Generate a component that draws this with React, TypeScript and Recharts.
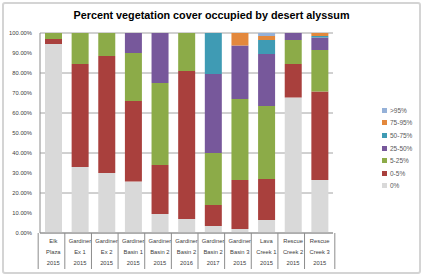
import React from 'react';
import { BarChart, Bar, XAxis, YAxis, CartesianGrid, Legend } from 'recharts';

const sites = [
  'Elk Plaza',
  'Gardiner Ex 1',
  'Gardiner Ex 2',
  'Gardiner Basin 1',
  'Gardiner Basin 2',
  'Gardiner Basin 2',
  'Gardiner Basin 2',
  'Gardiner Basin 3',
  'Lava Creek 1',
  'Rescue Creek 2',
  'Rescue Creek 3',
];
const years = ['2015', '2015', '2015', '2015', '2015', '2016', '2017', '2015', '2015', '2015', '2015'];

const cover0 = [94.5, 33, 30, 25.7, 9.5, 7, 3.5, 2, 6.5, 67.7, 26.5];
const cover0to5 = [2.5, 51.5, 58.5, 40.3, 24.5, 74, 10.5, 24.5, 20.5, 16.8, 44.2];
const cover5to25 = [3, 15.5, 11.5, 24, 41, 19, 26, 40.5, 36.5, 12, 20.8];
const cover25to50 = [0, 0, 0, 10, 25, 0, 39.5, 26.7, 26, 3.5, 6.2];
const cover50to75 = [0, 0, 0, 0, 0, 0, 20.5, 0, 7, 0, 0.8];
const cover75to95 = [0, 0, 0, 0, 0, 0, 0, 6.3, 2, 0, 1.5];
const coverOver95 = [0, 0, 0, 0, 0, 0, 0, 0, 1.5, 0, 0];

const yTicks = [0, 10, 20, 30, 40, 50, 60, 70, 80, 90, 100];

const series = [
  { key: 'c0', name: '0%', color: '#d9d9d9', values: cover0 },
  { key: 'c5', name: '0-5%', color: '#a9403d', values: cover0to5 },
  { key: 'c25', name: '5-25%', color: '#8cab48', values: cover5to25 },
  { key: 'c50', name: '25-50%', color: '#77589b', values: cover25to50 },
  { key: 'c75', name: '50-75%', color: '#3f9bb4', values: cover50to75 },
  { key: 'c95', name: '75-95%', color: '#e3883c', values: cover75to95 },
  { key: 'c100', name: '>95%', color: '#95b1d8', values: coverOver95 },
];

const data = sites.map((site, i) => {
  const row: any = { site, year: years[i], idx: i };
  series.forEach((s) => {
    row[s.key] = s.values[i];
  });
  return row;
});

const W = 423;
const H = 278;
const PLOT_LEFT = 40;
const PLOT_RIGHT = 373;
const BAND = (PLOT_RIGHT - PLOT_LEFT) / sites.length;
const FONT = '"Liberation Sans", Arial, sans-serif';

function CategoryTick(props: any) {
  const { x, y, payload } = props;
  const i = payload.index ?? payload.value;
  const name: string = sites[i];
  const parts = name.split(' ');
  const lines = parts.length > 1 ? [parts[0], parts.slice(1).join(' ')] : [name];
  const left = x - BAND / 2;
  const right = x + BAND / 2;
  return (
    <g>
      <line x1={left} y1={y} x2={left} y2={y + 36} stroke="#8c8c8c" strokeWidth={1} />
      {i === sites.length - 1 && (
        <line x1={right} y1={y} x2={right} y2={y + 36} stroke="#8c8c8c" strokeWidth={1} />
      )}
      {lines.map((l, k) => (
        <text key={k} x={x} y={y + 10 + k * 11} textAnchor="middle" fontSize={5.8} fill="#404040" fontFamily={FONT}>
          {l}
        </text>
      ))}
      <text x={x} y={y + 32} textAnchor="middle" fontSize={5.8} fill="#404040" fontFamily={FONT}>
        {years[i]}
      </text>
    </g>
  );
}

function LegendBox() {
  const items = [...series].reverse();
  return (
    <div style={{ fontFamily: FONT, fontSize: 6.5, color: '#595959' }}>
      {items.map((s) => (
        <div key={s.key} style={{ display: 'flex', alignItems: 'center', height: 12.6 }}>
          <span style={{ width: 5, height: 5, background: s.color, marginRight: 3, display: 'inline-block' }} />
          <span>{s.name}</span>
        </div>
      ))}
    </div>
  );
}

export default function App() {
  return (
    <div style={{ position: 'absolute', left: 0, top: 0, width: W, height: H, background: '#fff' }}>
      <div
        style={{
          position: 'absolute',
          left: 2,
          top: 2,
          width: W - 8,
          height: H - 10,
          border: '2px solid #d4d4d4',
          borderRadius: 3,
        }}
      />
      <div
        style={{
          position: 'absolute',
          left: 0,
          top: 9,
          width: W,
          textAlign: 'center',
          fontFamily: FONT,
          fontWeight: 'bold',
          fontSize: 10.8,
          color: '#000',
        }}
      >
        Percent vegetation cover occupied by desert alyssum
      </div>
      <BarChart
        width={W}
        height={H}
        data={data}
        margin={{ top: 33, right: W - PLOT_RIGHT, bottom: 10, left: 3 }}
        barCategoryGap={5}
        style={{ position: 'absolute', left: 0, top: 0 }}
      >
        <CartesianGrid vertical={false} stroke="#8c8c8c" strokeWidth={0.8} />
        <XAxis
          dataKey="idx"
          tick={<CategoryTick />}
          tickLine={false}
          tickSize={0}
          tickMargin={0}
          axisLine={{ stroke: '#8c8c8c' }}
          height={35}
          interval={0}
        />
        <YAxis
          domain={[0, 100]}
          ticks={yTicks}
          width={37}
          tickFormatter={(v: number) => `${v.toFixed(2)}%`}
          tick={{ fontSize: 5.8, fill: '#404040', fontFamily: FONT }}
          tickLine={false}
          axisLine={{ stroke: '#8c8c8c' }}
          allowDataOverflow
        />
        <Legend
          content={<LegendBox />}
          layout="vertical"
          verticalAlign="top"
          align="right"
          wrapperStyle={{ position: 'absolute', left: 382, top: 104, width: 40 }}
        />
        {series.map((s) => (
          <Bar key={s.key} dataKey={s.key} name={s.name} stackId="a" fill={s.color} isAnimationActive={false} />
        ))}
      </BarChart>
    </div>
  );
}
